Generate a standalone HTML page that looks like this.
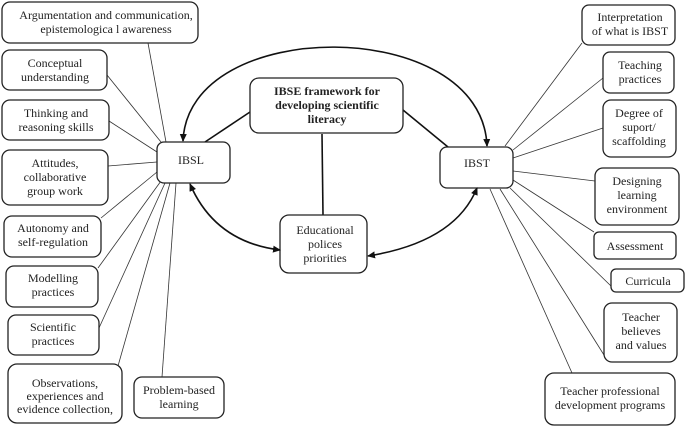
<!DOCTYPE html>
<html><head><meta charset="utf-8"><style>
html,body{margin:0;padding:0;background:#fff}
svg text{font-family:"Liberation Serif",serif;font-size:12px;fill:#222}
</style></head><body>
<svg width="685" height="430" viewBox="0 0 685 430" xmlns="http://www.w3.org/2000/svg">
<defs><marker id="a" markerWidth="8" markerHeight="8" refX="7" refY="4" orient="auto-start-reverse" markerUnits="userSpaceOnUse"><path d="M0,0.5 L8,4 L0,7.5z" fill="#111"/></marker></defs>
<g stroke="#333" stroke-width="0.8" fill="none">
<line x1="148" y1="43" x2="166" y2="142"/>
<line x1="107" y1="75" x2="161" y2="142"/>
<line x1="109" y1="121" x2="157" y2="152"/>
<line x1="108" y1="166" x2="157" y2="162"/>
<line x1="101" y1="218" x2="157" y2="172"/>
<line x1="98" y1="268" x2="161" y2="181"/>
<line x1="99" y1="328" x2="165" y2="183"/>
<line x1="118" y1="366" x2="170" y2="183"/>
<line x1="162" y1="377" x2="176" y2="183"/>
<line x1="582" y1="43" x2="505" y2="146"/>
<line x1="603" y1="78" x2="513" y2="150"/>
<line x1="603" y1="128" x2="513" y2="158"/>
<line x1="595" y1="181" x2="513" y2="171"/>
<line x1="594" y1="232" x2="513" y2="180"/>
<line x1="611" y1="286" x2="510" y2="188"/>
<line x1="604" y1="355" x2="500" y2="189"/>
<line x1="572" y1="373" x2="490" y2="189"/>
</g>
<g stroke="#111" stroke-width="1.6" fill="none">
<line x1="250" y1="112" x2="205" y2="142"/>
<line x1="403" y1="110" x2="448" y2="147"/>
<line x1="322" y1="134" x2="323" y2="215"/>
</g>
<g stroke="#222" stroke-width="1.3" fill="#fff">
<rect x="2" y="2" width="196" height="41" rx="8"/>
<rect x="2" y="50" width="105" height="40" rx="8"/>
<rect x="2" y="100" width="107" height="40" rx="8"/>
<rect x="2" y="150" width="106" height="55" rx="8"/>
<rect x="4" y="216" width="97" height="41" rx="8"/>
<rect x="6" y="266" width="92" height="41" rx="8"/>
<rect x="8" y="315" width="91" height="40" rx="8"/>
<rect x="8" y="364" width="114" height="59" rx="9"/>
<rect x="134" y="377" width="90" height="41" rx="8"/>
<rect x="157" y="142" width="73" height="41" rx="7"/>
<rect x="250" y="78" width="153" height="55" rx="9"/>
<rect x="280" y="215" width="87" height="58" rx="9"/>
<rect x="440" y="147" width="73" height="41" rx="7"/>
<rect x="582" y="5" width="93" height="40" rx="7"/>
<rect x="603" y="52" width="71" height="41" rx="7"/>
<rect x="603" y="100" width="73" height="57" rx="8"/>
<rect x="595" y="168" width="84" height="57" rx="8"/>
<rect x="594" y="232" width="82" height="27" rx="5"/>
<rect x="611" y="269" width="73" height="23" rx="5"/>
<rect x="604" y="303" width="73" height="59" rx="8"/>
<rect x="545" y="373" width="130" height="52" rx="9"/>
</g>
<g stroke="#111" stroke-width="1.6" fill="none">
<path d="M183,141 C188,15 482,15 487,146" marker-start="url(#a)" marker-end="url(#a)"/>
<path d="M190,184 Q215,242 280,250" marker-start="url(#a)" marker-end="url(#a)"/>
<path d="M368,256 Q455,242 477,188" marker-start="url(#a)" marker-end="url(#a)"/>
</g>
<g text-anchor="middle">
<text x="106" y="19">Argumentation and communication,</text>
<text x="106" y="33">epistemologica l awareness</text>
<text x="55" y="67">Conceptual</text><text x="55" y="81">understanding</text>
<text x="56" y="117">Thinking and</text><text x="56" y="131">reasoning  skills</text>
<text x="55" y="167">Attitudes,</text><text x="55" y="181">collaborative</text><text x="55" y="195">group work</text>
<text x="53" y="232">Autonomy and</text><text x="53" y="246">self-regulation</text>
<text x="53" y="282">Modelling</text><text x="53" y="296">practices</text>
<text x="53" y="331">Scientific</text><text x="53" y="345">practices</text>
<text x="65" y="387">Observations,</text><text x="65" y="400">experiences and</text><text x="65" y="413">evidence collection,</text>
<text x="179" y="394">Problem-based</text><text x="179" y="408">learning</text>
<text x="191" y="164">IBSL</text>
<text x="477" y="167">IBST</text>
<text x="327" y="95" font-weight="bold">IBSE framework for</text>
<text x="327" y="109" font-weight="bold">developing scientific</text>
<text x="327" y="123" font-weight="bold">literacy</text>
<text x="325" y="234">Educational</text><text x="325" y="248">polices</text><text x="325" y="262">priorities</text>
<text x="630" y="21">Interpretation</text><text x="630" y="35">of what is IBST</text>
<text x="640" y="69">Teaching</text><text x="640" y="83">practices</text>
<text x="639" y="117">Degree of</text><text x="639" y="131">suport/</text><text x="639" y="145">scaffolding</text>
<text x="637" y="185">Designing</text><text x="637" y="199">learning</text><text x="637" y="213">environment</text>
<text x="635" y="250">Assessment</text>
<text x="648" y="285">Curricula</text>
<text x="641" y="321">Teacher</text><text x="641" y="335">believes</text><text x="641" y="349">and values</text>
<text x="610" y="395">Teacher professional</text><text x="610" y="409">development programs</text>
</g>
</svg>
</body></html>
